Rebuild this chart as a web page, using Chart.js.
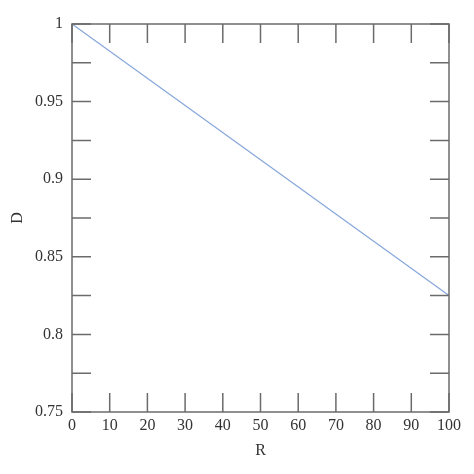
<!DOCTYPE html>
<html>
<head>
<meta charset="utf-8">
<script src="https://cdn.jsdelivr.net/npm/chart.js@4/dist/chart.umd.min.js"></script>
<style>
  html, body { margin: 0; padding: 0; background: #fff; }
  #wrap { width: 474px; height: 474px; }
</style>
</head>
<body>
<div id="wrap"><canvas id="line-chart"></canvas></div>
<script>
// Data
var rValues = [0, 100];
var dValues = [1, 0.825];

var xTicks = [0, 10, 20, 30, 40, 50, 60, 70, 80, 90, 100];
var yTicks = [0.75, 0.775, 0.8, 0.825, 0.85, 0.875, 0.9, 0.925, 0.95, 0.975, 1];

var axisColor = "#6b6b6b";
var textColor = "#333333";
var serif = "'Liberation Serif', 'DejaVu Serif', serif";

// draws the frame and the inward tick marks on all four sides
var frameTicks = {
    id: "frameTicks",
    afterDatasetsDraw: function(chart) {
        var ctx = chart.ctx;
        var a = chart.chartArea;
        var xs = chart.scales.x, ys = chart.scales.y;
        var len = 19;
        ctx.save();
        ctx.strokeStyle = axisColor;
        ctx.lineWidth = 1.5;
        ctx.strokeRect(a.left, a.top, a.right - a.left, a.bottom - a.top);
        ctx.beginPath();
        xTicks.forEach(function(v) {
            var px = xs.getPixelForValue(v);
            ctx.moveTo(px, a.bottom); ctx.lineTo(px, a.bottom - len);
            ctx.moveTo(px, a.top); ctx.lineTo(px, a.top + len);
        });
        yTicks.forEach(function(v) {
            var py = ys.getPixelForValue(v);
            ctx.moveTo(a.left, py); ctx.lineTo(a.left + len, py);
            ctx.moveTo(a.right, py); ctx.lineTo(a.right - len, py);
        });
        ctx.stroke();
        ctx.restore();
    }
};

var chartData = {
    datasets: [{
        label: "D",
        data: rValues.map(function(r, i) { return { x: r, y: dValues[i] }; }),
        borderColor: "#86a6da",
        borderWidth: 1.2,
        pointRadius: 0,
        fill: false,
        tension: 0
    }]
};

var chartOptions = {
    responsive: true,
    maintainAspectRatio: false,
    animation: false,
    layout: { padding: { left: 0, top: 24, right: 25, bottom: 0 } },
    plugins: { legend: { display: false }, tooltip: { enabled: false } },
    scales: {
        x: {
            type: "linear",
            min: 0, max: 100,
            afterBuildTicks: function(scale) {
                scale.ticks = xTicks.map(function(v) { return { value: v }; });
            },
            afterFit: function(scale) { scale.height = 62; },
            grid: { display: false, drawTicks: false },
            border: { display: false },
            ticks: {
                color: textColor, padding: 4, maxRotation: 0,
                font: { family: serif, size: 16 }
            },
            title: {
                display: true, text: "R", color: textColor,
                font: { family: serif, size: 16 },
                padding: { top: 0, bottom: 14 }
            }
        },
        y: {
            type: "linear",
            min: 0.75, max: 1,
            afterBuildTicks: function(scale) {
                scale.ticks = yTicks.map(function(v) { return { value: v }; });
            },
            afterFit: function(scale) { scale.width = 72; },
            grid: { display: false, drawTicks: false },
            border: { display: false },
            ticks: {
                color: textColor, padding: 9,
                font: { family: serif, size: 16 },
                callback: function(v) {
                    var k = Math.round(v * 1000);
                    if (k % 50 !== 0) return "";
                    return String(Number(v.toFixed(2)));
                }
            },
            title: {
                display: true, text: "D", color: textColor,
                font: { family: serif, size: 16 },
                padding: { top: 8, bottom: 0 }
            }
        }
    }
};

var lineChart = new Chart(document.getElementById("line-chart"), {
    type: "line",
    data: chartData,
    options: chartOptions,
    plugins: [frameTicks]
});
</script>
</body>
</html>
